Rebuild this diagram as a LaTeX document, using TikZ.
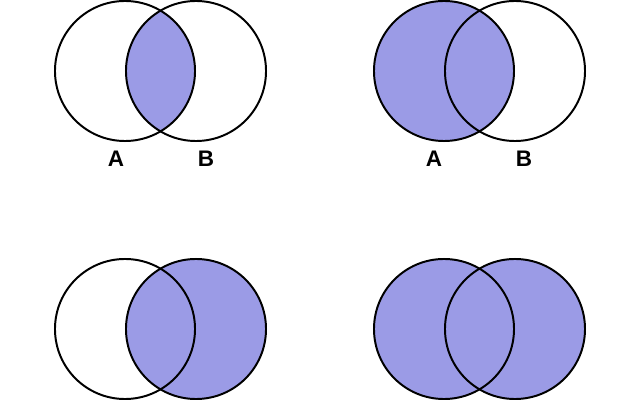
\documentclass[tikz,border=0pt]{standalone}
\usepackage{fontspec}
\setmainfont{Liberation Sans}
\usetikzlibrary{positioning}
\definecolor{setfill}{HTML}{9B9BE6}
\tikzset{
  ring/.style={draw=black,line width=1.4pt},
  setlabel/.style={font=\fontsize{16}{18}\selectfont\bfseries,inner sep=0pt}
}
\begin{document}
\begin{tikzpicture}[x=0.025cm,y=-0.025cm]
\useasboundingbox (0,0) rectangle (640,400);
% top left: A and B
\begin{scope}
\clip (125,71) circle[radius=1.75cm];
\fill [setfill](196,71) circle[radius=1.75cm];
\end{scope}
\draw [ring](125,71) circle[radius=1.75cm];
\draw [ring](196,71) circle[radius=1.75cm];
\node [setlabel] (a1) at (116,159) {A};
\node [setlabel] (b1) at (206,159) {B};
% top right: A
\fill [setfill](444,71) circle[radius=1.75cm];
\draw [ring](444,71) circle[radius=1.75cm];
\draw [ring](515,71) circle[radius=1.75cm];
\node [setlabel] (a2) at (434,159) {A};
\node [setlabel] (b2) at (524,159) {B};
% bottom left: B
\fill [setfill](196,329) circle[radius=1.75cm];
\draw [ring](125,329) circle[radius=1.75cm];
\draw [ring](196,329) circle[radius=1.75cm];
% bottom right: A or B
\fill [setfill](444,329) circle[radius=1.75cm];
\fill [setfill](515,329) circle[radius=1.75cm];
\draw [ring](444,329) circle[radius=1.75cm];
\draw [ring](515,329) circle[radius=1.75cm];
\end{tikzpicture}
\end{document}
